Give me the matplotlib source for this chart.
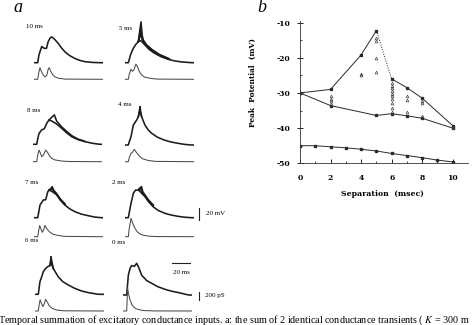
import numpy as np
import matplotlib.pyplot as plt

plt.rcParams['font.family'] = 'Liberation Serif'
plt.rcParams['mathtext.fontset'] = 'stix'
plt.rcParams['axes.unicode_minus'] = False

# ---- panel a : voltage (mV above rest) and conductance (pS) traces, time in ms ----
panel_names = ["10 ms", "5 ms", "8 ms", "4 ms", "7 ms", "2 ms", "6 ms", "0 ms"]

t10 = [-4, 0, 1.4, 4.4, 7, 9.7, 11.3, 13.5, 15.4, 18, 22.7, 26, 30, 35, 41, 46, 52, 60, 68.5, 72]
v10 = [0, 0, 13, 27, 24, 24, 34, 41, 43, 40, 32, 25, 18, 12, 7, 4, 1.7, 0.5, 0, 0]
g10_t = [-4, 0, 1, 2.5, 4, 6, 8, 10, 11.5, 12.5, 14, 16, 19, 23, 30, 72]
g10 = [0, 0, 150, 290, 200, 110, 60, 100, 250, 290, 220, 130, 60, 25, 5, 0]

t5 = [-4, 0, 1, 2.4, 5.5, 8.5, 11, 12.9, 15, 18.4, 23, 29, 36, 43.7, 51, 59, 70, 72]
v5 = [0, 0, 5, 13, 24, 31, 35, 37, 35, 29.5, 22, 15.7, 10, 5.7, 3, 1.2, 0, 0]
t5s = [11, 12.5, 14, 15.2, 16.5, 20, 26, 34, 45]
v5s_a = [35, 52, 68, 46, 38, 30, 22, 14, 6.5]
v5s_b = [35, 46, 57, 41, 35, 29, 21, 13, 6]
v5s_c = [35, 42, 48, 39, 33, 28, 20, 12.5, 5.8]
g5_t = [-4, 0, 1, 3, 4.5, 6, 8.4, 10, 12, 14.7, 18, 24, 32, 72]
g5 = [0, 0, 120, 250, 200, 230, 380, 320, 200, 108, 55, 25, 5, 0]

t8 = [-4, 0, 1, 2.5, 5.5, 8.4, 11, 13.5, 16.5, 22, 27.5, 33, 38.5, 45, 53, 62, 69.6, 72]
v8 = [0, 0, 8, 18, 24, 26, 35, 40.5, 38.8, 33.8, 26.7, 19, 12.7, 8, 4.4, 1.5, 0, 0]
t8s = [13.5, 16.5, 19.4, 22, 27.5, 33, 38.5, 45, 53]
v8s = [40.5, 45, 49, 38.5, 29, 21.5, 14.5, 9, 5]
g8_t = [-4, 0, 1, 2.5, 4, 5.5, 7.5, 9.9, 12, 14, 16.5, 20, 27.5, 35, 72]
g8 = [0, 0, 150, 290, 220, 125, 170, 290, 230, 150, 85, 45, 17, 5, 0]

t4 = [-4, 0, 1, 3, 5.5, 9.2, 11, 12.8, 14.7, 18.4, 22, 25.7, 32, 40, 47, 54.7, 62, 69.7, 72]
v4 = [0, 0, 5, 14, 33, 41.7, 47, 58, 47, 33, 25, 19.5, 13, 8, 5, 2.8, 1, 0, 0]
t4s = [11, 12.3, 13, 13.6, 14.7]
v4s = [47, 58, 64, 55, 47]
g4_t = [-4, 0, 1, 3, 4.5, 6.6, 9, 12.8, 16, 22, 30, 72]
g4 = [0, 0, 100, 210, 230, 310, 230, 125, 70, 30, 8, 0]

t7 = [-4, 0, 1, 2.5, 6.2, 8.8, 11, 12.4, 14, 16.5, 20.9, 25, 30, 35, 41, 48, 55.7, 63, 70, 72]
v7 = [0, 0, 8, 21, 29.5, 30, 43, 46, 45, 43, 38, 29, 21, 15, 10, 6, 3.3, 1, 0, 0]
t7s = [12.4, 14.5, 16, 17.5, 20.9, 25, 30]
v7s_a = [46, 49, 51.7, 46, 40, 31, 23]
v7s_b = [46, 47, 48.5, 44, 39, 30, 22]
g7_t = [-4, 0, 1, 2.2, 3.5, 5, 6.5, 8, 10, 13.5, 17, 22.7, 30, 72]
g7 = [0, 0, 140, 280, 200, 110, 170, 280, 200, 110, 60, 30, 8, 0]

t2 = [-4, 0, 1, 3, 5.5, 8, 11, 12.8, 14.5, 18.4, 22, 27.5, 33, 40.3, 47, 55, 62, 69.7, 72]
v2 = [0, 0, 8, 24, 40.6, 46, 46, 44, 41, 35, 27, 18, 12, 7.3, 4.5, 2.2, 0.8, 0, 0]
t2s = [11, 12.8, 14.5, 16, 18.4, 22, 27.5]
v2s_a = [46, 50, 45, 40, 36.5, 29, 20]
v2s_b = [46, 48, 52, 43, 38, 30, 21]
g2_t = [-4, 0, 1, 3, 5, 7.3, 10, 12.8, 16, 22, 30, 72]
g2 = [0, 0, 200, 460, 330, 210, 120, 70, 40, 15, 4, 0]

t6 = [-4, 0, 1.8, 3.7, 5.5, 8, 10.3, 12.8, 14, 14.6, 16.5, 22, 27, 33, 40, 47.7, 56, 66, 72]
v6 = [0, 0, 21, 29, 37.7, 43, 46, 48, 62.7, 57, 43, 29, 21, 15.5, 10, 5.5, 2.5, 0, 0]
t6s = [12.8, 13.8, 14.6, 16.5]
v6s = [48, 55, 50, 43]
g6_t = [-4, 0, 1, 2, 3.5, 5, 6.5, 8, 10, 12, 15, 20, 28, 72]
g6 = [0, 0, 160, 280, 190, 110, 180, 290, 220, 130, 70, 25, 5, 0]

t0 = [-4, 0, 1.8, 3.7, 5.5, 8.4, 11, 12.9, 16.5, 22, 27.5, 34, 42, 49, 57, 64, 68, 72]
v0 = [0, 0, 33, 44.5, 49, 47.8, 52.8, 47, 33, 24, 19.5, 14, 9.5, 6.5, 4, 1.5, 0, 0]
g0_t = [-4, 0, 0.5, 1, 2, 3.7, 5.5, 7.3, 10, 14.7, 20, 30, 72]
g0 = [0, 0, 300, 580, 430, 275, 170, 110, 60, 25, 10, 2, 0]

v_traces = [
    [(t10, v10)],
    [(t5, v5), (t5s, v5s_a), (t5s, v5s_b), (t5s, v5s_c)],
    [(t8, v8), (t8s, v8s)],
    [(t4, v4), (t4s, v4s)],
    [(t7, v7), (t7s, v7s_a), (t7s, v7s_b)],
    [(t2, v2), (t2s, v2s_a), (t2s, v2s_b)],
    [(t6, v6), (t6s, v6s)],
    [(t0, v0)],
]
g_traces = [(g10_t, g10), (g5_t, g5), (g8_t, g8), (g4_t, g4),
            (g7_t, g7), (g2_t, g2), (g6_t, g6), (g0_t, g0)]

# ---- panel b : peak potential vs separation ----
sep_upper = [0, 2, 4, 5, 6, 7, 8, 10]
peak_upper = [-30, -29, -19.2, -12.3, -26.0, -28.5, -31.5, -39.3]
sep_lower = [0, 2, 5, 6, 7, 8, 10]
peak_lower = [-30, -33.6, -36.4, -35.9, -36.5, -37.2, -40.0]
sep_single = [0, 1, 2, 3, 4, 5, 6, 7, 8, 9, 10]
peak_single = [-45, -45, -45.3, -45.6, -46, -46.5, -47.2, -47.8, -48.4, -49.1, -49.6]
sep_pts = [2, 2, 2, 2, 4, 4, 5, 5, 5, 5,
           6, 6, 6, 6, 6, 6, 6, 6, 6, 6,
           7, 7, 7, 8, 8, 8, 10]
peak_pts = [-31, -31.7, -32.4, -33.2, -24.5, -25, -14.5, -15.2, -20, -24.1,
            -27.3, -28, -28.7, -29.5, -30.3, -31, -31.6, -33, -34.2, -35.4,
            -31, -32, -35.5, -32.2, -32.8, -36.5, -39.6]

W, H = 474, 325
PX_MS, PX_MV, PX_PS = 1 / 1.1, 0.6, 0.04
T_LIM, V_LIM, G_LIM = (-4, 72), (-3, 75), (-30, 600)
onset_x = [37.7, 128.3, 36.7, 128.3, 37.7, 128.3, 38.3, 126.7]
v_base = [62.7, 62.7, 144.3, 145, 217.7, 217.7, 294.3, 295]
g_base = [79.3, 79.3, 161.7, 161.7, 236.7, 236.7, 311, 311]
label_xy = [(26, 27), (119, 28), (27, 110), (118, 104), (25, 183), (112, 183), (25, 241), (112, 242)]


def box(x0, x1, ytop, ybot):
    return [x0 / W, 1 - ybot / H, (x1 - x0) / W, (ybot - ytop) / H]


fig = plt.figure(figsize=(4.74, 3.25), dpi=100)

v_axes, g_axes = [], []
for i in range(8):
    ox = onset_x[i]
    axv = fig.add_axes(box(ox + T_LIM[0] * PX_MS, ox + T_LIM[1] * PX_MS,
                           v_base[i] - V_LIM[1] * PX_MV, v_base[i] - V_LIM[0] * PX_MV))
    axv.set_xlim(T_LIM)
    axv.set_ylim(V_LIM)
    axv.axis('off')
    for t, v in v_traces[i]:
        axv.plot(t, v, color='#1c1c1c', lw=1.15, solid_joinstyle='round')
    axg = fig.add_axes(box(ox + T_LIM[0] * PX_MS, ox + T_LIM[1] * PX_MS,
                           g_base[i] - G_LIM[1] * PX_PS, g_base[i] - G_LIM[0] * PX_PS))
    axg.set_xlim(T_LIM)
    axg.set_ylim(G_LIM)
    axg.axis('off')
    axg.plot(g_traces[i][0], g_traces[i][1], color='#4a4a4a', lw=0.75)
    lx, ly = label_xy[i]
    fig.text(lx / W, 1 - ly / H, panel_names[i], fontsize=5, va='center', ha='left')
    v_axes.append(axv)
    g_axes.append(axg)

# scale bars
v_axes[5].plot([78, 78], [-4, 16], color='#222', lw=0.8, clip_on=False)
v_axes[5].text(86, 7.5, "20 mV", fontsize=5, va='center', ha='left')
v_axes[7].plot([50, 69.6], [53.3, 53.3], color='#222', lw=0.8, clip_on=False)
v_axes[7].text(60, 37, "20 ms", fontsize=5, va='center', ha='center')
g_axes[7].plot([79.5, 79.5], [270, 470], color='#222', lw=0.8, clip_on=False)
g_axes[7].text(86, 375, "200 pS", fontsize=5, va='center', ha='left')

fig.text(13 / W, 1 - 8 / H, "a", fontsize=13, style='italic', va='center', ha='left')
fig.text(257 / W, 1 - 8 / H, "b", fontsize=13, style='italic', va='center', ha='left')

# ---- panel b ----
axb = fig.add_axes(box(300, 468, 20.8, 163.3))
lc = '#2a2a2a'
axb.plot(sep_upper[:4], peak_upper[:4], color=lc, lw=0.7)
axb.plot(sep_upper[3:5], peak_upper[3:5], color=lc, lw=0.7, ls=(0, (1, 1.5)))
axb.plot(sep_upper[4:], peak_upper[4:], color=lc, lw=0.7)
axb.plot(sep_upper, peak_upper, ls='none', marker='s', ms=1.8, color=lc)
axb.plot(sep_lower, peak_lower, color=lc, lw=0.7, marker='s', ms=1.8)
axb.plot(sep_single, peak_single, color=lc, lw=0.7, marker='s', ms=1.8)
axb.plot(sep_pts, peak_pts, ls='none', marker='^', ms=2.0, mfc='none', mec='#444', mew=0.5)

axb.set_xlim(0, 11)
axb.set_ylim(-50, -9.5)
axb.set_xticks([0, 2, 4, 6, 8, 10])
axb.set_xticks(np.arange(0, 11, 1), minor=True)
axb.set_yticks([-50, -40, -30, -20, -10])
axb.set_yticks(np.arange(-50, -9, 5), minor=True)
for s in ['top', 'right']:
    axb.spines[s].set_visible(False)
for s in ['left', 'bottom']:
    axb.spines[s].set_linewidth(0.6)
    axb.spines[s].set_color('#333')
axb.tick_params(axis='y', which='major', direction='inout', length=4, width=0.6, pad=5)
axb.tick_params(axis='y', which='minor', direction='in', length=1.5, width=0.5)
axb.tick_params(axis='x', which='major', direction='in', length=3, width=0.6, pad=8)
axb.tick_params(axis='x', which='minor', direction='in', length=1.5, width=0.5)
for lab in axb.get_xticklabels() + axb.get_yticklabels():
    lab.set_fontfamily('DejaVu Serif')
    lab.set_fontweight('bold')
    lab.set_fontsize(5.5)
axb.set_xlabel("Separation  (msec)", fontfamily='DejaVu Serif', fontweight='bold', fontsize=5.6)
axb.set_ylabel("Peak  Potential  (mV)", fontfamily='DejaVu Serif', fontweight='bold', fontsize=5.4)
axb.xaxis.set_label_coords(0.488, -0.185)
axb.yaxis.set_label_coords(-0.255, 0.57)

fig.text(-0.004, 0.0077,
         "Temporal summation of excitatory conductance inputs. a: the sum of 2 identical "
         "conductance transients ( $K$ = 300 m",
         fontsize=7.3, va='baseline', ha='left')

fig.savefig("out.png", dpi=100)
